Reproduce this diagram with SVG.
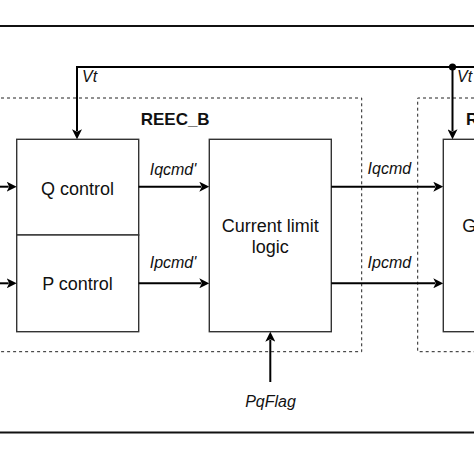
<svg xmlns="http://www.w3.org/2000/svg" width="474" height="474" viewBox="0 0 474 474">
  <style>
    .frame { stroke: #111; stroke-width: 2; fill: none; }
    .dash { stroke: #222; stroke-width: 1; stroke-dasharray: 3 3; fill: none; }
    .box { stroke: #333; stroke-width: 1.4; fill: #fff; }
    .wire { stroke: #000; stroke-width: 2; fill: none; }
    .arr { stroke: #000; stroke-width: 2; fill: none; marker-end: url(#ah); }
    .lbl { font-family: "Liberation Sans", Arial, sans-serif; font-size: 18px; fill: #111; text-anchor: middle; }
    .sig { font-family: "Liberation Sans", Arial, sans-serif; font-size: 16px; font-style: italic; fill: #111; }
    .title { font-family: "Liberation Sans", Arial, sans-serif; font-size: 17px; font-weight: bold; fill: #111; }
  </style>
  <defs>
    <marker id="ah" viewBox="0 0 10 10" refX="2" refY="5" markerWidth="10" markerHeight="10" markerUnits="userSpaceOnUse" orient="auto">
      <path d="M0,0 L10,5 L0,10 L2.5,5 z" fill="#000"/>
    </marker>
  </defs>
  <rect width="474" height="474" fill="#fff"/>

  <!-- outer frame lines -->
  <line class="frame" x1="0" y1="26" x2="474" y2="26"/>
  <line class="frame" x1="0" y1="432.5" x2="474" y2="432.5"/>

  <!-- dashed group boxes -->
  <g id="reec_b">
    <path class="dash" d="M-5,98 H361.7 V351.7 H-5"/>
    <text class="title" x="140.7" y="125">REEC_B</text>
  </g>
  <g id="regc_a">
    <path class="dash" d="M480,98 H417.7 V351.7 H480"/>
    <text class="title" x="466" y="125">REGC_A</text>
  </g>

  <!-- nodes -->
  <g id="q_control">
    <rect class="box" x="16.7" y="139.3" width="122" height="95.7"/>
    <text class="lbl" x="77.5" y="195">Q control</text>
  </g>
  <g id="p_control">
    <rect class="box" x="16.7" y="235" width="122" height="96.7"/>
    <text class="lbl" x="77.5" y="290">P control</text>
  </g>
  <g id="current_limit">
    <rect class="box" x="209.3" y="139.3" width="122" height="192.4"/>
    <text class="lbl" x="270.3" y="231.7">Current limit</text>
    <text class="lbl" x="270.3" y="252.5">logic</text>
  </g>
  <g id="generator">
    <rect class="box" x="443.3" y="139.3" width="40" height="192.4"/>
    <text class="lbl" x="462.3" y="231.5" style="text-anchor:start">G</text>
  </g>

  <!-- connectors -->
  <g id="connectors">
    <path class="arr" d="M474,67 H77 V131.3"/>
    <path class="arr" d="M452.5,67 V131.3"/>
    <circle cx="452.5" cy="67" r="3.6" fill="#000"/>
    <path class="arr" d="M0,186.7 H8.7"/>
    <path class="arr" d="M0,283.3 H8.7"/>
    <path class="arr" d="M138.7,186.7 H201.3"/>
    <path class="arr" d="M138.7,283.3 H201.3"/>
    <path class="arr" d="M331.3,186.7 H435.3"/>
    <path class="arr" d="M331.3,283.3 H435.3"/>
    <path class="arr" d="M270.3,382 V339.7"/>
  </g>

  <!-- signal labels -->
  <text class="sig" x="82" y="82">Vt</text>
  <text class="sig" x="457" y="82">Vt</text>
  <text class="sig" x="173" y="175" text-anchor="middle">Iqcmd'</text>
  <text class="sig" x="173" y="268" text-anchor="middle">Ipcmd'</text>
  <text class="sig" x="389.4" y="174" text-anchor="middle">Iqcmd</text>
  <text class="sig" x="389.4" y="268" text-anchor="middle">Ipcmd</text>
  <text class="sig" x="270.5" y="407" text-anchor="middle">PqFlag</text>
</svg>
